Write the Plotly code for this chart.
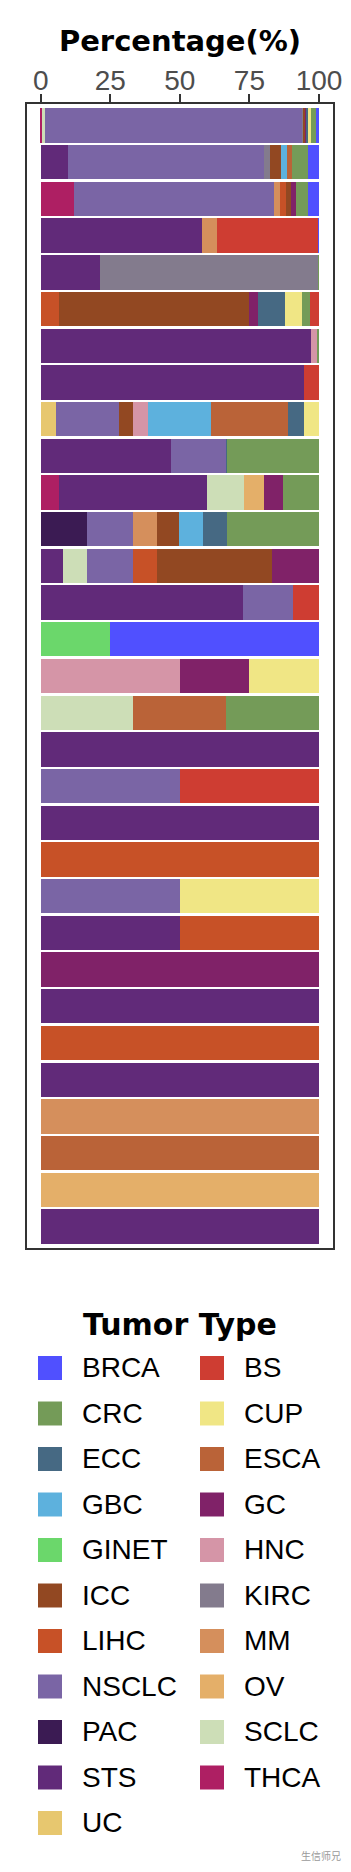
import plotly.graph_objects as go

# ---------------- data ----------------
tumor_types = ["BRCA", "BS", "CRC", "CUP", "ECC", "ESCA", "GBC", "GC", "GINET", "HNC", "ICC",
               "KIRC", "LIHC", "MM", "NSCLC", "OV", "PAC", "SCLC", "STS", "THCA", "UC"]
colors = ["#5050FF", "#CE3D32", "#749B58", "#F0E685", "#466983", "#BA6338", "#5DB1DD", "#802268",
          "#6BD76B", "#D595A7", "#924822", "#837B8D", "#C75127", "#D58F5C", "#7A65A5", "#E4AF69",
          "#3B1B53", "#CDDEB7", "#612A79", "#AE1F63", "#E7C76F"]

rows = list(range(1, 32))  # 31 samples/groups, top to bottom

BRCA  = [1.2, 4.1, 4.0, 0.2, 0,  0, 0, 0, 0, 0,  0, 0, 0, 0, 75.1,  0, 0, 0, 0, 0,  0, 0, 0, 0, 0,  0, 0, 0, 0, 0, 0]
BS    = [0, 0, 0, 36.4, 0,  3.2, 0, 5.3, 0, 0,  0, 0, 0, 9.2, 0,  0, 0, 0, 50, 0,  0, 0, 0, 0, 0,  0, 0, 0, 0, 0, 0]
CRC   = [1.6, 5.7, 4.2, 0, 0.2,  2.9, 0.6, 0, 0, 33.0,  13.0, 33.2, 0, 0, 0,  0, 33.3, 0, 0, 0,  0, 0, 0, 0, 0,  0, 0, 0, 0, 0, 0]
CUP   = [1.2, 0, 0, 0, 0,  6.1, 0, 0, 5.4, 0,  0, 0, 0, 0, 0,  25, 0, 0, 0, 0,  0, 50, 0, 0, 0,  0, 0, 0, 0, 0, 0]
ECC   = [0.6, 0, 0, 0, 0,  9.7, 0, 0, 5.7, 0.3,  0, 8.6, 0, 0, 0,  0, 0, 0, 0, 0,  0, 0, 0, 0, 0,  0, 0, 0, 0, 0, 0]
ESCA  = [0, 1.8, 0, 0, 0,  0, 0, 0, 27.8, 0,  0, 0, 0, 0, 0,  0, 33.4, 0, 0, 0,  0, 0, 0, 0, 0,  0, 0, 0, 100, 0, 0]
GBC   = [0, 2.0, 0, 0, 0,  0, 0, 0, 22.4, 0,  0, 8.6, 0, 0, 0,  0, 0, 0, 0, 0,  0, 0, 0, 0, 0,  0, 0, 0, 0, 0, 0]
GC    = [0.4, 0, 1.8, 0, 0,  3.1, 0, 0, 0, 0,  6.7, 0, 16.9, 0, 0,  25, 0, 0, 0, 0,  0, 0, 0, 100, 0,  0, 0, 0, 0, 0, 0]
GINET = [0, 0, 0, 0, 0,  0, 0, 0, 0, 0,  0, 0, 0, 0, 24.9,  0, 0, 0, 0, 0,  0, 0, 0, 0, 0,  0, 0, 0, 0, 0, 0]
HNC   = [0, 0, 0, 0, 0,  0, 2.4, 0, 5.6, 0,  0, 0, 0, 0, 0,  50, 0, 0, 0, 0,  0, 0, 0, 0, 0,  0, 0, 0, 0, 0, 0]
ICC   = [0.4, 4.0, 1.8, 0, 0,  68.5, 0, 0, 5.1, 0,  0, 7.9, 41.4, 0, 0,  0, 0, 0, 0, 0,  0, 0, 0, 0, 0,  0, 0, 0, 0, 0, 0]
KIRC  = [0.5, 2.0, 0, 0, 78.6,  0, 0, 0, 0, 0,  0, 0, 0, 0, 0,  0, 0, 0, 0, 0,  0, 0, 0, 0, 0,  0, 0, 0, 0, 0, 0]
LIHC  = [0, 0, 2.2, 0, 0,  6.5, 0, 0, 0, 0,  0, 0, 8.5, 0, 0,  0, 0, 0, 0, 0,  100, 0, 50, 0, 0,  100, 0, 0, 0, 0, 0]
MM    = [0, 0, 2.2, 5.4, 0,  0, 0, 0, 0, 0,  0, 8.6, 0, 0, 0,  0, 0, 0, 0, 0,  0, 0, 0, 0, 0,  0, 0, 100, 0, 0, 0]
NSCLC = [92.5, 70.7, 71.7, 0, 0,  0, 0, 0, 22.5, 20.0,  0, 16.5, 16.6, 18.0, 0,  0, 0, 0, 50, 0,  0, 50, 0, 0, 0,  0, 0, 0, 0, 0, 0]
OV    = [0, 0, 0, 0, 0,  0, 0, 0, 0, 0,  7.1, 0, 0, 0, 0,  0, 0, 0, 0, 0,  0, 0, 0, 0, 0,  0, 0, 0, 0, 100, 0]
PAC   = [0, 0, 0, 0, 0,  0, 0, 0, 0, 0,  0, 16.6, 0, 0, 0,  0, 0, 0, 0, 0,  0, 0, 0, 0, 0,  0, 0, 0, 0, 0, 0]
SCLC  = [1.2, 0, 0, 0, 0,  0, 0, 0, 0, 0,  13.4, 0, 8.7, 0, 0,  0, 33.3, 0, 0, 0,  0, 0, 0, 0, 0,  0, 0, 0, 0, 0, 0]
STS   = [0, 9.7, 0, 58.0, 21.2,  0, 97.0, 94.7, 0, 46.7,  53.2, 0, 7.9, 72.8, 0,  0, 0, 100, 0, 100,  0, 0, 50, 0, 100,  0, 100, 0, 0, 0, 100]
THCA  = [0.4, 0, 12.1, 0, 0,  0, 0, 0, 0, 0,  6.6, 0, 0, 0, 0,  0, 0, 0, 0, 0,  0, 0, 0, 0, 0,  0, 0, 0, 0, 0, 0]
UC    = [0, 0, 0, 0, 0,  0, 0, 0, 5.5, 0,  0, 0, 0, 0, 0,  0, 0, 0, 0, 0,  0, 0, 0, 0, 0,  0, 0, 0, 0, 0, 0]

series = {"BRCA": BRCA, "BS": BS, "CRC": CRC, "CUP": CUP, "ECC": ECC, "ESCA": ESCA, "GBC": GBC,
          "GC": GC, "GINET": GINET, "HNC": HNC, "ICC": ICC, "KIRC": KIRC, "LIHC": LIHC, "MM": MM,
          "NSCLC": NSCLC, "OV": OV, "PAC": PAC, "SCLC": SCLC, "STS": STS, "THCA": THCA, "UC": UC}

x_ticks = [0, 25, 50, 75, 100]

# ---------------- figure ----------------
W, H = 351, 1872
ML, MR, MT, MB = 27, 18, 104, 0
plot_bottom_px = 1248
main_dom_low = (H - plot_bottom_px) / (H - MT - MB)

fig = go.Figure()

# stacked bars: ggplot-style stacking puts first level at the right, so add in reverse
for name in reversed(tumor_types):
    col = colors[tumor_types.index(name)]
    fig.add_trace(go.Bar(
        x=series[name], y=rows, orientation="h", name=name,
        marker=dict(color=col, line=dict(width=0)),
        showlegend=False, xaxis="x", yaxis="y",
    ))

# custom legend (second, invisible subplot in pixel-like units)
sw_x = [50, 212]
lab_x = [80, 242]
y0, dy = 1368, 45.5
font_reg = "Liberation Sans, Arial, sans-serif"
for i, name in enumerate(tumor_types):
    r, c = divmod(i, 2)
    fig.add_trace(go.Scatter(
        x=[sw_x[c]], y=[y0 + r * dy], mode="markers",
        marker=dict(symbol="square", size=24, color=colors[i], line=dict(width=0)),
        showlegend=False, xaxis="x2", yaxis="y2", hoverinfo="skip",
    ))
    fig.add_annotation(x=lab_x[c], y=y0 + r * dy, xref="x2", yref="y2", text=name,
                       showarrow=False, xanchor="left", yanchor="middle",
                       font=dict(family=font_reg, size=28, color="#000000"))

fig.add_annotation(x=180, y=1325, xref="x2", yref="y2", text="<b>Tumor Type</b>",
                   showarrow=False, xanchor="center", yanchor="middle",
                   font=dict(family="DejaVu Sans, sans-serif", size=30, color="#000000"))

fig.add_annotation(x=321, y=1856, xref="x2", yref="y2", text="生信师兄",
                   showarrow=False, xanchor="center", yanchor="middle",
                   font=dict(family="Noto Sans CJK SC", size=10, color="#9a9a9a"))

fig.update_layout(
    width=W, height=H,
    margin=dict(l=ML, r=MR, t=MT, b=MB, pad=0),
    paper_bgcolor="white", plot_bgcolor="white",
    barmode="stack", bargap=0.064,
    title=dict(text="<b>Percentage(%)</b>", x=0.5, xref="paper", xanchor="center",
               y=1 - 41 / H, yref="container", yanchor="middle",
               font=dict(family="DejaVu Sans, sans-serif", size=29, color="#000000")),
    xaxis=dict(domain=[0, 1], range=[-4.92, 105.03], side="top", anchor="y",
               tickmode="array", tickvals=x_ticks, ticktext=[str(t) for t in x_ticks],
               ticks="outside", ticklen=8, tickwidth=2, tickcolor="#333333",
               ticklabelstandoff=-7,
               tickfont=dict(family=font_reg, size=28, color="#4D4D4D"),
               showline=True, mirror=True, linecolor="#333333", linewidth=2,
               showgrid=False, zeroline=False),
    yaxis=dict(domain=[main_dom_low, 1], range=[31.587, 0.413], anchor="x",
               showticklabels=False, ticks="",
               showline=True, mirror=True, linecolor="#333333", linewidth=2,
               showgrid=False, zeroline=False),
    xaxis2=dict(domain=[0, 1], range=[ML, W - MR], anchor="y2", visible=False),
    yaxis2=dict(domain=[0, main_dom_low], range=[H, plot_bottom_px], anchor="x2", visible=False),
)

fig.write_html("out.html")
